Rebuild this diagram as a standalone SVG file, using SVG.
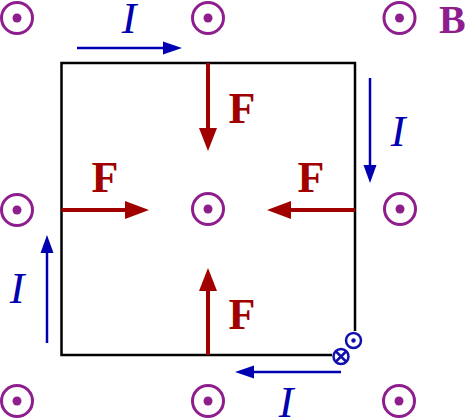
<svg xmlns="http://www.w3.org/2000/svg" width="474" height="420" viewBox="0 0 474 420">
<style>
.fld{fill:none;stroke:#8e1e8e;stroke-width:3}
.dot{fill:#8e1e8e}
.force{stroke:#a00000;stroke-width:4;fill:none}
.fh{fill:#a00000}
.cur{stroke:#0000b0;stroke-width:2.5;fill:none}
.ch{fill:#0000b0}
.F{font-family:"Liberation Serif",serif;font-weight:bold;font-size:44px;fill:#a00000;text-anchor:middle}
.I{font-family:"Liberation Serif",serif;font-style:italic;font-size:44px;fill:#0000b0;text-anchor:middle}
.B{font-family:"Liberation Serif",serif;font-weight:bold;font-size:40px;fill:#8e1e8e}
.loop{fill:none;stroke:#000;stroke-width:2.5}
.sym{fill:none;stroke:#1010b0;stroke-width:2.5}
</style>
<defs>
<g id="fd"><circle r="15.5" class="fld"/><circle r="4.5" class="dot"/></g>
</defs>
<g id="field">
<use href="#fd" x="17" y="18"/><use href="#fd" x="208" y="18"/><use href="#fd" x="399.5" y="18"/>
<use href="#fd" x="17" y="210"/><use href="#fd" x="208" y="209"/><use href="#fd" x="400" y="209"/>
<use href="#fd" x="17" y="401"/><use href="#fd" x="208" y="401"/><use href="#fd" x="399" y="401"/>
<text class="B" x="439" y="33">B</text>
</g>
<g id="loop">
<path class="loop" d="M332,355 L61.5,355 L61.5,63 L355,63 L355,331"/>
<g class="sym"><circle cx="353.5" cy="340.5" r="7.5"/><circle cx="341" cy="356.5" r="7.5"/><path d="M336,351.5 L346,361.5 M346,351.5 L336,361.5"/></g>
<circle cx="353.5" cy="340.5" r="2.2" fill="#1010b0"/>
</g>
<g id="connectors">
<line class="force" x1="208" y1="63" x2="208" y2="135"/><path class="fh" d="M199,128 L217,128 L208,151 z"/>
<line class="force" x1="61.5" y1="210" x2="132" y2="210"/><path class="fh" d="M125,201 L125,219 L149,210 z"/>
<line class="force" x1="355" y1="210" x2="284" y2="210"/><path class="fh" d="M291,201 L291,219 L267,210 z"/>
<line class="force" x1="208" y1="355" x2="208" y2="284"/><path class="fh" d="M199,291 L217,291 L208,268 z"/>
<line class="cur" x1="77" y1="48" x2="170" y2="48"/><path class="ch" d="M163,41.5 L163,54.5 L182,48 z"/>
<line class="cur" x1="370" y1="78" x2="370" y2="170"/><path class="ch" d="M363.5,165 L376.5,165 L370,183 z"/>
<line class="cur" x1="47" y1="343" x2="47" y2="248"/><path class="ch" d="M40.5,253 L53.5,253 L47,235 z"/>
<line class="cur" x1="341" y1="372" x2="248" y2="372"/><path class="ch" d="M254,365.5 L254,378.5 L235,372 z"/>
</g>
<g id="labels">
<text class="F" x="242" y="123">F</text>
<text class="F" x="105" y="192">F</text>
<text class="F" x="311" y="192">F</text>
<text class="F" x="242" y="329">F</text>
<text class="I" x="129" y="33">I</text>
<text class="I" x="398" y="146">I</text>
<text class="I" x="17" y="303">I</text>
<text class="I" x="286" y="417">I</text>
</g>
</svg>
